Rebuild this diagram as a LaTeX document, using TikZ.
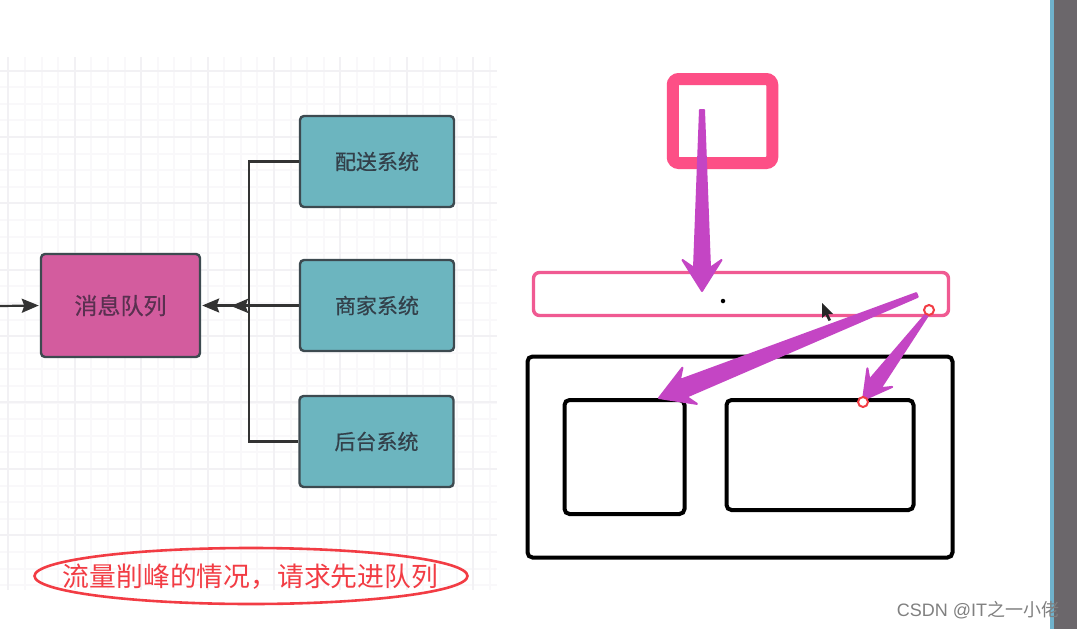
\documentclass[tikz,border=0pt]{standalone}
\usepackage{fontspec}
\usepackage{amsmath}
\newfontfamily\cjk{Noto Sans CJK SC}
\newfontfamily\cjklabel[FakeBold=0.5]{Noto Sans CJK SC}
\newfontfamily\latin{Liberation Sans}
\usetikzlibrary{arrows.meta,calc,shapes.geometric}
\definecolor{tealbox}{HTML}{6CB5BF}
\definecolor{magbox}{HTML}{D35C9E}
\definecolor{boxline}{HTML}{3D4A50}
\definecolor{boxtext}{HTML}{33404A}
\definecolor{mqtext}{HTML}{5A3050}
\definecolor{linkline}{HTML}{333333}
\definecolor{pinkline}{HTML}{FD4F86}
\definecolor{barline}{HTML}{F05A92}
\definecolor{fatcol}{HTML}{C445C4}
\definecolor{noteline}{HTML}{F23C44}
\definecolor{gridmin}{HTML}{F9F8FA}
\definecolor{gridmaj}{HTML}{F2F1F4}
\definecolor{sideband}{HTML}{6B676B}
\definecolor{sideedge}{HTML}{6FB2CC}
\tikzset{
    sysbox/.style={draw=boxline,line width=2.4pt,rounded corners=4pt,fill=tealbox,text=boxtext,
        minimum width=154pt,minimum height=91pt,font=\cjklabel\fontsize{21}{25}\selectfont},
    mqbox/.style={sysbox,fill=magbox,text=mqtext,minimum width=159pt,minimum height=103pt,
        font=\cjklabel\fontsize{23}{27}\selectfont},
    link/.style={draw=linkline,line width=2.2pt},
    linkhead/.style={link,-{Stealth[length=17pt,width=14pt,inset=2.5pt]},shorten >=1pt},
    blackbox/.style={draw=black,line width=4pt,rounded corners=5pt,minimum height=0pt},
    handle/.style={circle,draw=noteline,fill=white,line width=2pt,inner sep=0pt,minimum size=10pt},
    fatarrow/.style={fill=fatcol,draw=fatcol,line width=2pt,line join=round}
}
% tail half width, neck half width, barb back, notch back, barb half width
\newcommand{\fatline}[7]{
    \path[fatarrow] ($(#1)!#3pt!90:(#2)$) -- ($(#2)!#6pt!(#1)!#4pt!-90:(#1)$)
        -- ($(#2)!#5pt!(#1)!#7pt!-90:(#1)$) -- (#2)
        -- ($(#2)!#5pt!(#1)!#7pt!90:(#1)$) -- ($(#2)!#6pt!(#1)!#4pt!90:(#1)$)
        -- ($(#1)!#3pt!-90:(#2)$) -- cycle;
}
\begin{document}
\begin{tikzpicture}[x=1pt,y=-1pt]
    \useasboundingbox (0,0) rectangle (1077,629);
    \fill[white] (0,0) rectangle (1077,629);
    % grid behind the left diagram
    \begin{scope}[line width=1.5pt]
        \foreach \i in {0,...,29} {
            \draw[gridmin] ({round(8.4+16.6*\i)},57) -- ({round(8.4+16.6*\i)},590);
        }
        \foreach \i in {0,...,31} {
            \draw[gridmin] (0,{round(70.5+16.6*\i)}) -- (497,{round(70.5+16.6*\i)});
        }
        \foreach \i in {0,...,7} {
            \draw[gridmaj,line width=2pt] ({round(8.4+66.4*\i)},57) -- ({round(8.4+66.4*\i)},590);
        }
        \foreach \i in {0,...,7} {
            \draw[gridmaj,line width=2pt] (0,{round(70.5+66.4*\i)}) -- (497,{round(70.5+66.4*\i)});
        }
    \end{scope}
    % side band
    \fill[sideband] (1052,0) rectangle (1077,629);
    \fill[sideedge] (1050,0) rectangle (1054,629);
    % left diagram
    \node[mqbox] (mq) at (120.5,305.5) {消息队列};
    \node[sysbox] (peisong) at (377,161.5) {配送系统};
    \node[sysbox] (shangjia) at (377,305.5) {商家系统};
    \node[sysbox] (houtai) at (376.5,441.5) {后台系统};
    \coordinate (inlet) at (0,306);
    \coordinate (bus) at (249,306);
    \coordinate (bustip) at (230,306);
    \draw[link] (peisong.west) -| (bus);
    \draw[link] (houtai.west) -| (bus);
    \draw[linkhead] (shangjia.west) -- (bustip);
    \draw[linkhead] (shangjia.west) -- (mq.east);
    \draw[linkhead] (inlet) -- (mq.west);
    % right sketch
    \node[draw=pinkline,line width=12pt,rounded corners=6pt,minimum width=99.5pt,minimum height=84pt,outer sep=0pt] (front) at (722.5,121) {};
    \node[draw=barline,line width=3.4pt,rounded corners=6pt,minimum width=415pt,minimum height=43pt] (bar) at (741,294) {};
    \node[blackbox,minimum width=425pt,minimum height=201pt] (outer) at (740,457) {};
    \node[blackbox,minimum width=120pt,minimum height=114pt] (left) at (624.5,457) {};
    \node[blackbox,minimum width=187pt,minimum height=110pt] (right) at (820,455) {};
    \node[circle,fill=black,inner sep=0pt,minimum size=4.5pt] (dot) at (723,301) {};
    \coordinate (t1) at (702,110);
    \coordinate (h1) at (702,291);
    \coordinate (t2) at (917,295);
    \coordinate (h2) at (659,398);
    \coordinate (t3) at (929,312);
    \coordinate (h3) at (863,400);
    \fatline{t1}{h1}{2}{8}{31}{23}{19.5}
    \fatline{t2}{h2}{2}{9}{33}{26}{19.5}
    \fatline{t3}{h3}{1}{7}{28}{20}{15.5}
    \node[handle] (handlea) at (929,310) {};
    \node[handle] (handleb) at (863,402) {};
    % mouse pointer
    \fill[black!85] (822,303) -- (822,318) -- (825.5,315) -- (828.5,321) -- (831,320) -- (828,314) -- (833,314) -- cycle;
    % note
    \node[ellipse,draw=noteline,line width=2.6pt,minimum width=433pt,minimum height=56pt,inner sep=0pt] (note) at (251,576) {};
    \node[text=noteline,font=\cjk\fontsize{26.8}{30}\selectfont] (notetext) at (250.5,577) {流量削峰的情况，请求先进队列};
    % watermark
    \node[text=black!50,font=\fontsize{18}{21}\selectfont,inner sep=0pt] (mark) at (978,610) {\latin CSDN @IT\cjk 之一小佬};
\end{tikzpicture}
\end{document}
